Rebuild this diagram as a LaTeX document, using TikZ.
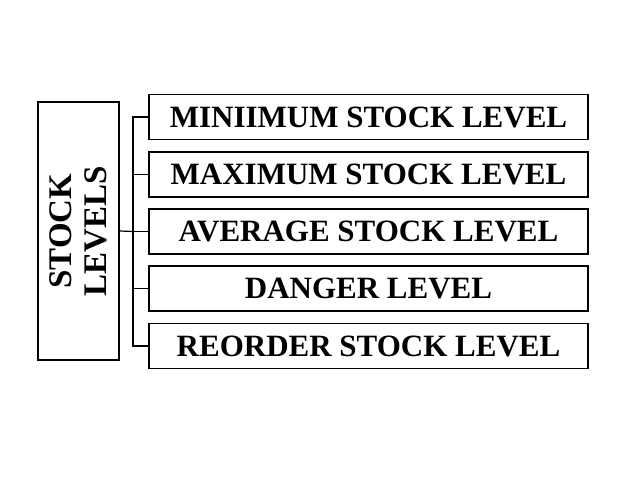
\documentclass[tikz,border=0pt]{standalone}
\usepackage{fontspec}
\setmainfont{Liberation Serif}
\begin{document}
\begin{tikzpicture}[x=1pt,y=-1pt,
  lvl/.style={draw,line width=1.2pt,minimum width=439pt,minimum height=45pt,inner sep=0pt,font=\fontsize{31}{31}\selectfont\bfseries},
  conn/.style={line width=1.2pt}]
\useasboundingbox (0,0) rectangle (638,478);
\node[draw,line width=1.2pt,minimum width=81pt,minimum height=258pt,inner sep=0pt] (s) at (78.5,231) {};
\node[rotate=90,align=center,font=\fontsize{33}{35}\selectfont\bfseries] at (s.center) {STOCK\\LEVELS};
\node[lvl] (a) at (368.5,117) {MINIIMUM STOCK LEVEL};
\node[lvl] (b) at (368.5,174.5) {MAXIMUM STOCK LEVEL};
\node[lvl] (c) at (368.5,231.5) {AVERAGE STOCK LEVEL};
\node[lvl] (d) at (368.5,288.5) {DANGER LEVEL};
\node[lvl] (e) at (368.5,346) {REORDER STOCK LEVEL};
\coordinate (j) at (133,231.5);
\draw[conn] (s.east) -- (j);
\draw[conn] (a.west) -| (j) |- (e.west);
\foreach \n in {b,c,d} \draw[conn] (\n.west) -- (\n.west -| j);
\end{tikzpicture}
\end{document}
